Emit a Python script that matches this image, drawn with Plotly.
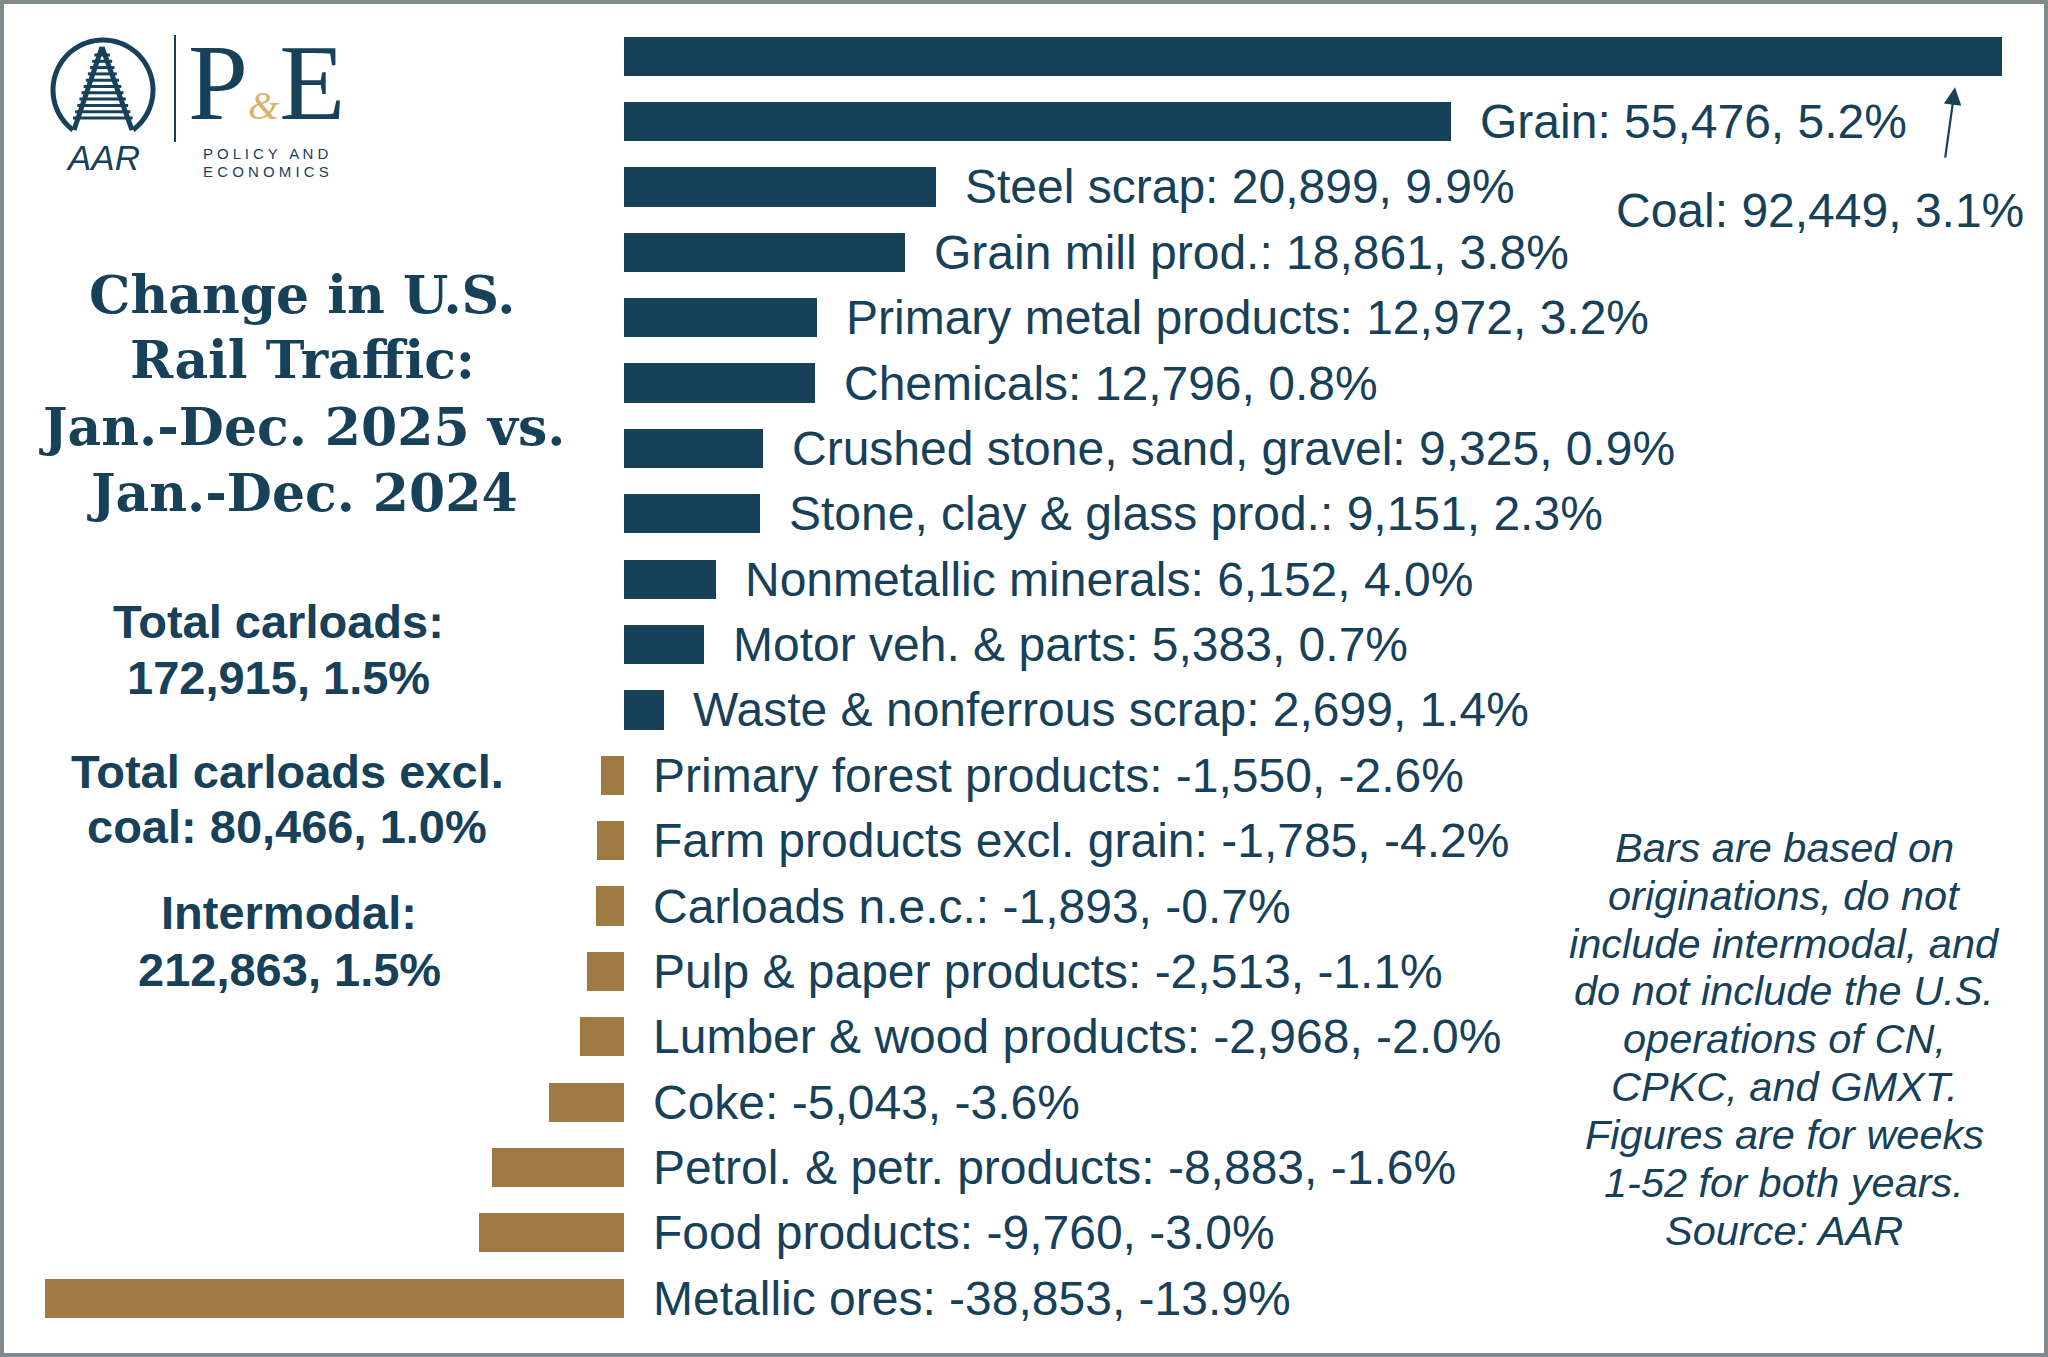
import numpy as np
import plotly.graph_objects as go

# ---------------- data ----------------
categories = ["Coal", "Grain", "Steel scrap", "Grain mill prod.", "Primary metal products",
              "Chemicals", "Crushed stone, sand, gravel", "Stone, clay & glass prod.",
              "Nonmetallic minerals", "Motor veh. & parts", "Waste & nonferrous scrap",
              "Primary forest products", "Farm products excl. grain", "Carloads n.e.c.",
              "Pulp & paper products", "Lumber & wood products", "Coke",
              "Petrol. & petr. products", "Food products", "Metallic ores"]
changes = [92449, 55476, 20899, 18861, 12972, 12796, 9325, 9151, 6152, 5383, 2699,
           -1550, -1785, -1893, -2513, -2968, -5043, -8883, -9760, -38853]
pct_changes = [3.1, 5.2, 9.9, 3.8, 3.2, 0.8, 0.9, 2.3, 4.0, 0.7, 1.4,
               -2.6, -4.2, -0.7, -1.1, -2.0, -3.6, -1.6, -3.0, -13.9]

title_lines = ["Change in U.S.", "Rail Traffic:", "Jan.-Dec. 2025 vs.", "Jan.-Dec. 2024"]
stat_blocks = [["Total carloads:", "172,915, 1.5%"],
               ["Total carloads excl.", "coal: 80,466, 1.0%"],
               ["Intermodal:", "212,863, 1.5%"]]
note_lines = ["Bars are based on", "originations, do not", "include intermodal, and",
              "do not include the U.S.", "operations of CN,", "CPKC, and GMXT.",
              "Figures are for weeks", "1-52 for both years.", "Source: AAR"]

# ---------------- style ----------------
W, H = 2048, 1357
NAVY = "#174059"
GOLD = "#A07A43"
LIGHT_GOLD = "#D6B36C"
BORDER = "#7F8B8D"
SANS = "Liberation Sans, Arial, sans-serif"
SERIF = "DejaVu Serif, serif"


def px(x):
    return x / W


def py(y):
    return 1 - y / H


positions = list(range(len(categories)))
bar_colors = [NAVY if v > 0 else GOLD for v in changes]

fig = go.Figure(go.Bar(
    x=changes, y=positions, orientation="h", width=0.6,
    marker=dict(color=bar_colors, line=dict(width=0)),
    hoverinfo="skip",
))

annotations = []
# bar labels
for i, (c, v, p) in enumerate(zip(categories, changes, pct_changes)):
    txt = f"{c}: {v:,}, {p:.1f}%"
    if i == 0:
        annotations.append(dict(x=v, y=positions[i], xref="x", yref="y", text=txt,
                                showarrow=False, xanchor="right", yanchor="middle",
                                xshift=24, yshift=-154,
                                font=dict(family=SANS, size=48, color=NAVY)))
        # arrow pointing up to the coal bar
        annotations.append(dict(x=v, y=positions[i], xref="x", yref="y", text="",
                                showarrow=True, arrowhead=2, arrowsize=1.6, arrowwidth=2.2,
                                arrowcolor=NAVY, ax=-10, ay=72, xshift=-47, yshift=-31,
                                standoff=0, startstandoff=0))
    else:
        annotations.append(dict(x=max(v, 0), y=positions[i], xref="x", yref="y", text=txt,
                                showarrow=False, xanchor="left", yanchor="middle",
                                xshift=27,
                                font=dict(family=SANS, size=48, color=NAVY)))

# title lines
title_mid = [295, 360, 426, 492]
for t, ym in zip(title_lines, title_mid):
    annotations.append(dict(x=px(302), y=py(ym), xref="paper", yref="paper",
                            text=f"<b>{t}</b>", showarrow=False,
                            xanchor="center", yanchor="middle",
                            font=dict(family=SERIF, size=52, color=NAVY)))

# stats
stat_pos = [(278, [621, 677]), (287, [771, 826]), (289, [912, 969])]
for block, (xc, ys) in zip(stat_blocks, stat_pos):
    for t, ym in zip(block, ys):
        annotations.append(dict(x=px(xc), y=py(ym), xref="paper", yref="paper",
                                text=f"<b>{t}</b>", showarrow=False,
                                xanchor="center", yanchor="middle",
                                font=dict(family=SANS, size=47, color=NAVY)))

# footnote
for k, t in enumerate(note_lines):
    ym = 847.6 + 47.8 * k
    annotations.append(dict(x=px(1784), y=py(ym), xref="paper", yref="paper",
                            text=f"<i>{t}</i>", showarrow=False,
                            xanchor="center", yanchor="middle",
                            font=dict(family=SANS, size=41.5, color=NAVY)))

# ---------------- logo ----------------
shapes = []
# circle arc (open at bottom)
cx, cy, r = 103, 90, 50
th = np.radians(np.linspace(127, 413, 80))
pts = [(px(cx + r * np.cos(a)), py(cy + r * np.sin(a))) for a in th]
path = "M " + " L ".join(f"{x:.5f},{y:.5f}" for x, y in pts)
shapes.append(dict(type="path", xref="paper", yref="paper", path=path,
                   line=dict(color=NAVY, width=5)))
# rails
apex = (102, 47)
for foot in [(74, 130), (132, 130)]:
    shapes.append(dict(type="line", xref="paper", yref="paper",
                       x0=px(apex[0]), y0=py(apex[1]), x1=px(foot[0]), y1=py(foot[1]),
                       line=dict(color=NAVY, width=5)))
# ties
for ty in np.linspace(55, 118, 11):
    t = (ty - 47) / (130 - 47)
    xl = 102 - 28 * t - 5
    xr = 102 + 30 * t + 5
    shapes.append(dict(type="line", xref="paper", yref="paper",
                       x0=px(xl), y0=py(ty), x1=px(xr), y1=py(ty),
                       line=dict(color=NAVY, width=3)))
# divider
shapes.append(dict(type="line", xref="paper", yref="paper",
                   x0=px(175), y0=py(35), x1=px(175), y1=py(142),
                   line=dict(color=NAVY, width=2)))
# border
shapes.append(dict(type="rect", xref="paper", yref="paper",
                   x0=px(2), y0=py(2), x1=px(W - 2), y1=py(H - 2),
                   line=dict(color=BORDER, width=4)))

annotations.append(dict(x=px(103), y=py(157), xref="paper", yref="paper", text="<i>AAR</i>",
                        showarrow=False, xanchor="center", yanchor="middle",
                        font=dict(family=SANS, size=35, color=NAVY)))
pe_text = ("P"
           f"<span style='font-size:40px;color:{LIGHT_GOLD}'><i>&</i></span>"
           "E")
annotations.append(dict(x=px(266), y=py(82.5), xref="paper", yref="paper", text=pe_text,
                        showarrow=False, xanchor="center", yanchor="middle",
                        font=dict(family="Liberation Serif, serif", size=108, color=NAVY)))
for t, ym in [("P O L I C Y   A N D", 153), ("E C O N O M I C S", 172)]:
    annotations.append(dict(x=px(266), y=py(ym), xref="paper", yref="paper", text=t,
                            showarrow=False, xanchor="center", yanchor="middle",
                            font=dict(family=SANS, size=15, color=NAVY)))

# axis ranges so that zero sits at x=624px and bars are 65.37px apart
x_scale = 1378 / 92449
x_min = -624 / x_scale
x_max = x_min + W / x_scale
y_top = -56.2 / 65.37
y_bottom = y_top + H / 65.37

fig.update_layout(
    width=W, height=H, margin=dict(l=0, r=0, t=0, b=0),
    paper_bgcolor="white", plot_bgcolor="white", showlegend=False,
    xaxis=dict(visible=False, range=[x_min, x_max], fixedrange=True),
    yaxis=dict(visible=False, range=[y_bottom, y_top], fixedrange=True),
    annotations=annotations, shapes=shapes, bargap=0,
)

fig.write_html("out.html", config={"displayModeBar": False})
